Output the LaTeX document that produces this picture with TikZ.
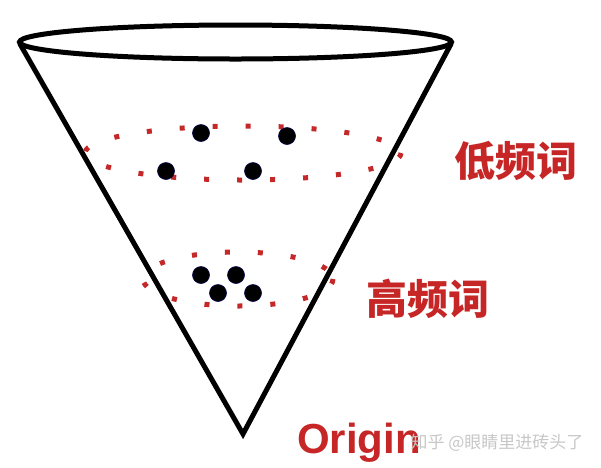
\documentclass[tikz,border=0pt]{standalone}
\usepackage{fontspec}
\setmainfont{Liberation Sans}
\newfontfamily\cjk{Noto Sans CJK SC}
\definecolor{lblred}{RGB}{198,38,38}
\definecolor{dotred}{RGB}{196,40,40}
\tikzset{
  cone/.style={line width=5pt, line join=miter, line cap=round},
  rim/.style={line width=5pt},
  ring/.style={dotred, line width=5pt, line cap=butt, dash pattern=on 5pt off 28pt},
  word/.style={fill=black, draw=black!70!blue, line width=0.6pt, circle, minimum size=17pt, inner sep=0pt},
  lbl/.style={text=lblred, font=\cjk\bfseries\fontsize{41}{41}\selectfont, inner sep=0pt},
}
\begin{document}
\begin{tikzpicture}[x=1pt,y=-1pt]
\useasboundingbox (0,0) rectangle (601,467);
% cone
\coordinate (L) at (20,44);
\coordinate (R) at (451,44);
\coordinate (apex) at (243,434);
\draw[cone] (L) -- (apex) -- (R);
\draw[rim] (235.5,42) ellipse [x radius=216, y radius=17];
% low-frequency ring
\draw[ring] (243,153) ellipse [x radius=158, y radius=27];
\node[word] (w1) at (201,133) {};
\node[word] (w2) at (287,136) {};
\node[word] (w3) at (166,171) {};
\node[word] (w4) at (253,171) {};
% high-frequency ring
\draw[ring] (238,279) ellipse [x radius=95, y radius=27];
\node[word] (h1) at (201,275) {};
\node[word] (h2) at (236,275) {};
\node[word] (h3) at (218,293) {};
\node[word] (h4) at (253,293) {};
% labels
\node[lbl] (low) at (516,161) {低频词};
\node[lbl] (high) at (428,299) {高频词};
\node[text=lblred, font=\bfseries\fontsize{42}{42}\selectfont, inner sep=0pt, anchor=base west] (origin) at (297,453) {Origin};
\node[text=black!22, font=\cjk\fontsize{17}{17}\selectfont, inner sep=0pt] (wm) at (497,443) {知乎 @眼睛里进砖头了};
\end{tikzpicture}
\end{document}
